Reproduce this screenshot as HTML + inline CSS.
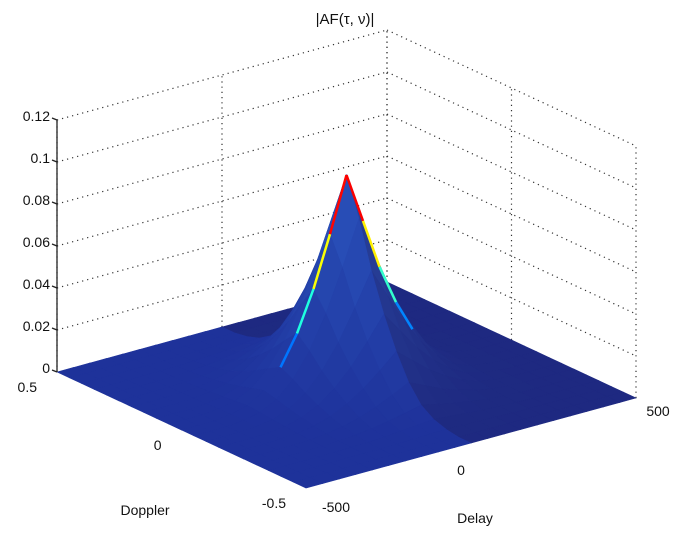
<!DOCTYPE html>
<html><head><meta charset="utf-8"><style>
body{margin:0;background:#fff;width:685px;height:535px;overflow:hidden}
svg text{font-family:"Liberation Sans",sans-serif;fill:#111}
</style></head><body>
<svg id="c" width="685" height="535">
<g id="grid"></g>
<g id="surf"></g>
<g id="axes"></g>
<text x="345" y="24" font-size="15" text-anchor="middle">|AF(τ, ν)|</text>
<text x="145" y="515" font-size="14" text-anchor="middle">Doppler</text>
<text x="475" y="523" font-size="14" text-anchor="middle">Delay</text>
</svg>
<script>
const zTicks=[0,0.02,0.04,0.06,0.08,0.1,0.12];
const zTickLabels=["0","0.02","0.04","0.06","0.08","0.1","0.12"];
const dopplerTicks=[0.5,0,-0.5];
const dopplerTickLabels=["0.5","0","-0.5"];
const delayTicks=[-500,0,500];
const delayTickLabels=["-500","0","500"];
const delayProfile=[0,0,0,0.01,0.03,0.08,0.17,0.31,0.5,0.74,1,0.76,0.52,0.33,0.18,0.08,0.03,0.01,0,0,0];
const dopplerProfile=[0,0,0.01,0.03,0.07,0.14,0.25,0.4,0.58,0.8,1,0.82,0.6,0.42,0.27,0.15,0.07,0.03,0.01,0,0];
const peakValue=0.1;

const NS="http://www.w3.org/2000/svg";
const O=[57,372], Vd=[249,116], Vt=[330,-90], ZS=2100;
function P(delay,dop,z){const a=(0.5-dop), b=(delay+500)/1000;
 return [O[0]+a*Vd[0]+b*Vt[0], O[1]+a*Vd[1]+b*Vt[1]-z*ZS];}
function mk(tag,attrs,parent){const e=document.createElementNS(NS,tag);for(const k in attrs)e.setAttribute(k,attrs[k]);parent.appendChild(e);return e;}
const grid=document.getElementById('grid'),axes=document.getElementById('axes'),surf=document.getElementById('surf');
const dot={stroke:"#333","stroke-width":1.2,"stroke-dasharray":"1.2 4",fill:"none"};
function line(p,q,g,st,name){const l=mk('line',Object.assign({x1:p[0],y1:p[1],x2:q[0],y2:q[1]},st),g);
 
 }
zTicks.forEach((z,i)=>{if(i===0)return;
 line(P(-500,0.5,z),P(500,0.5,z),grid,dot,'wall-gridline-back-left');
 line(P(500,0.5,z),P(500,-0.5,z),grid,dot,'wall-gridline-back-right');});
const zMax=zTicks[zTicks.length-1];
delayTicks.forEach(d=>line(P(d,0.5,0),P(d,0.5,zMax),grid,dot,'wall-gridline-vertical'));
dopplerTicks.forEach(v=>line(P(500,v,0),P(500,v,zMax),grid,dot,'wall-gridline-vertical'));
function jet(t){t=Math.max(0,Math.min(1,t));
 const r=Math.min(1,Math.max(0,1.5-Math.abs(4*t-3))),g=Math.min(1,Math.max(0,1.5-Math.abs(4*t-2))),b=Math.min(1,Math.max(0,1.5-Math.abs(4*t-1)));
 return [r,g,b];}
const N=delayProfile.length,M=dopplerProfile.length;
const dl=i=>-500+1000*i/(N-1), dp=j=>0.5-j/(M-1);
const Z=(i,j)=>peakValue*delayProfile[i]*dopplerProfile[j];
const faces=[];
for(let i=0;i<N-1;i++)for(let j=0;j<M-1;j++)faces.push([i,j]);
faces.sort((a,b)=>(-(a[0])+a[1])-(-(b[0])+b[1]));
faces.forEach(([i,j])=>{
 const pts=[[i,j],[i+1,j],[i+1,j+1],[i,j+1]].map(([a,b])=>P(dl(a),dp(b),Z(a,b)));
 const zs=[Z(i,j),Z(i+1,j),Z(i+1,j+1),Z(i,j+1)];
 const zm=Math.max(...zs), t=zm/peakValue;
 const shade=(i<(N-1)/2)?1.1:0.92;
 let r=30+10*t, g=(45+25*t)*shade, b=(140+25*t)*shade;
 const col=`rgb(${Math.round(r)},${Math.round(g)},${Math.round(Math.min(255,b))})`;
 const pg=mk('polygon',{points:pts.map(p=>p.join(',')).join(' '),fill:col,stroke:col,"stroke-width":0.6},surf);
 
 
});
const sil=[];
for(let i=0;i<N;i++){const p=P(dl(i),0,Z(i,(M-1)/2));sil.push([p,Z(i,(M-1)/2)]);}
for(let k=0;k<sil.length-1;k++){
 const zz=(sil[k][1]+sil[k+1][1])/2; if(zz<0.02)continue;
 const c=jet(zz/0.1);
 const ln=mk('line',{x1:sil[k][0][0],y1:sil[k][0][1],x2:sil[k+1][0][0],y2:sil[k+1][0][1],stroke:`rgb(${Math.round(c[0]*255)},${Math.round(c[1]*255)},${Math.round(c[2]*255)})`,"stroke-width":2.5},surf);
 
 
}
const solid={stroke:"#222","stroke-width":1.3};
line(P(-500,0.5,0),P(-500,0.5,zMax),axes,solid,'z-axis-line');
zTicks.forEach((z,i)=>{const p=P(-500,0.5,z);
 line([p[0]-5,p[1]-2],p,axes,solid,'z-tick');
 const t=mk('text',{x:p[0]-7,y:p[1]+1,"font-size":14,"text-anchor":"end"},axes);t.textContent=zTickLabels[i];
 
 });
dopplerTicks.forEach((v,i)=>{const p=P(-500,v,0);
 const t=mk('text',{x:p[0]-20,y:p[1]+20,"font-size":14,"text-anchor":"end"},axes);t.textContent=dopplerTickLabels[i];
 
 });
delayTicks.forEach((d,i)=>{const p=P(d,-0.5,0);
 const t=mk('text',{x:p[0]+(i===2?22:i===1?-10:30),y:p[1]+(i===2?18:i===1?32:24),"font-size":14,"text-anchor":"middle"},axes);t.textContent=delayTickLabels[i];
 
 });
</script>
</body></html>
